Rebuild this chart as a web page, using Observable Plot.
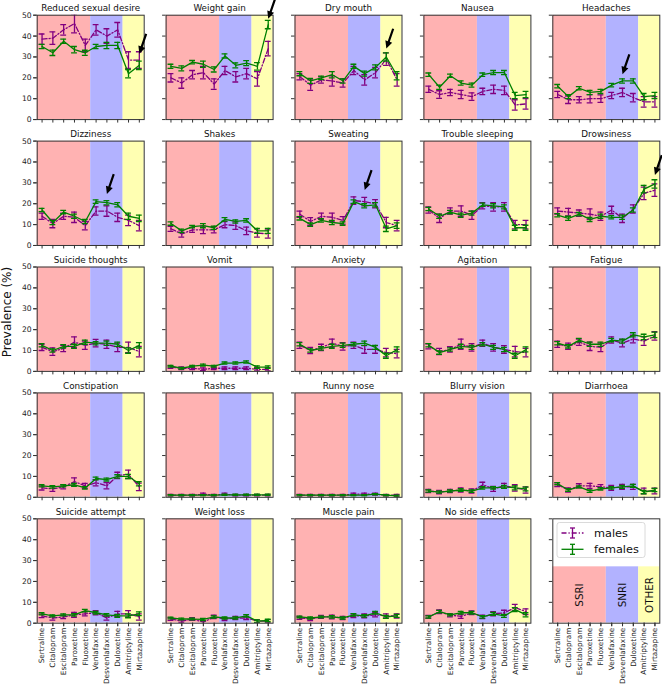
<!DOCTYPE html>
<html><head><meta charset="utf-8">
<script src="https://cdn.jsdelivr.net/npm/d3@7"></script>
<script src="https://cdn.jsdelivr.net/npm/@observablehq/plot@0.6"></script>
<style>
body{margin:0;background:#fff;font-family:"DejaVu Sans",sans-serif;}
#wrap{position:relative;width:662px;height:685px;overflow:hidden;}
#ylabel{position:absolute;left:7px;top:312px;transform:translate(-50%,-50%) rotate(-90deg);font-size:12px;white-space:nowrap;color:#111;}
#legend{position:absolute;left:0;top:0;}
</style></head><body><div id="wrap"><div id="ylabel">Prevalence (%)</div></div>
<script>
const drugs = ["Sertraline","Citalopram","Escitalopram","Paroxetine","Fluoxetine","Venlafaxine","Desvenlafaxine","Duloxetine","Amitriptyline","Mirtazapine"];
const drugClasses = ["SSRI","SSRI","SSRI","SSRI","SSRI","SNRI","SNRI","SNRI","OTHER","OTHER"];
const classNames = ["SSRI","SNRI","OTHER"];
const classColors = ["#ffb2b2","#b2b2ff","#ffffb2"];
const yTicks = [0,10,20,30,40,50];
const symptoms = ["Reduced sexual desire","Weight gain","Dry mouth","Nausea","Headaches","Dizziness","Shakes","Sweating","Trouble sleeping","Drowsiness","Suicide thoughts","Vomit","Anxiety","Agitation","Fatigue","Constipation","Rashes","Runny nose","Blurry vision","Diarrhoea","Suicide attempt","Weight loss","Muscle pain","No side effects"];

const maleValues = [
  [38.5,39,43,46,35.5,43,40,43,28.5,28.5],
  [20,17.5,21.5,22.5,17,23.5,20.5,22,19.5,34],
  [20.5,16.5,19,18.5,17.5,23.5,19,22.5,29,19],
  [14.5,12,13,12,11,13.5,14.5,14,7,7.5],
  [12,9.5,9.5,10,10,11.5,13,10.5,8.5,8.5],
  [14,10.5,14,13.5,9.5,16.5,16.5,13.5,12,9.5],
  [8,5.5,7.5,7.5,7.5,10,9.5,7,6,5.5],
  [15,11.5,14,13.5,12,21.5,21,20,11,9.5],
  [17,13,16.5,16.5,14.5,19,18.5,18.5,10,10],
  [16.5,16,15.5,15,14,17,13,17.5,25,26.5],
  [11.5,9.5,11,14,12.5,13.5,13,11.5,11.5,9.5],
  [2,1.5,1.5,1,1.5,1.5,1.5,1.5,1,1],
  [12.5,10,11.5,13.5,12,12.5,10.5,10.5,9,8.5],
  [12,9.5,10.5,13,11.5,13.5,11.5,10.5,9.5,9],
  [13,12,14,12,11.5,15,13.5,15.5,14.5,17],
  [4.5,4,5,7.5,5.5,7,5.5,10.5,11,5],
  [1,1,1,1.5,1,1.5,1,1,1,1],
  [1,1,1,1,1,1.5,1.5,1.5,1,1],
  [3,2.5,3,3.5,3,6,4,5.5,4.5,3.5],
  [6,3.5,5.5,5.5,5,4.5,5,5,3,3],
  [3.5,2.5,3,4,4.5,5,2.5,4.5,4.5,3],
  [2,1,2,0.5,3,2,2.5,2.5,1,1],
  [2.5,2,3,3,2.5,3.5,3.5,4,3.5,3.5],
  [3,5.5,3.8,3.3,5,3,4.5,5,7.5,5.5]
];
const femaleValues = [
  [35,32,37.5,33.5,32,35,35.5,35.5,22,26],
  [25.5,24.5,27.5,26.5,24,30.5,26,27,25.5,45.5],
  [22,18.5,20,21.5,18.5,25.5,22,25,30,21],
  [21.5,15.5,21,17.5,16.5,21.5,22.5,22.5,11.5,12],
  [16,11,15,13,13.5,16.5,18.5,18.5,11,11.5],
  [17,11,16,14,11.5,21,20.5,19.5,14,13],
  [10.5,7,9,9.5,8.5,12.5,11.5,12,7,7],
  [13,10,12,11,10.5,21,19,19.5,8,9.5],
  [17.5,14,16,14.5,15.5,19.5,19,18.5,8.5,8.5],
  [14.5,13,15,12.5,14,13.5,13.5,17,27,29.5],
  [12.5,10,12,12,14,13.5,13.5,13,10,12.5],
  [2.5,1.5,2.5,3,2.5,4,4,4.5,2,2],
  [13,10,11,12,12.5,13,13.5,11.5,7.5,10.5],
  [12.5,9,10.5,12,11.5,13,11.5,10.5,7.5,10.5],
  [13.5,12,15,13,13,15,14.5,17.5,16.5,17.5],
  [5.5,5,5.5,6,4.5,9,8.5,10,10,6.5],
  [1,1,1,1,1,1.2,1.2,1.2,1.2,1.2],
  [1,1,1,1,1,1,1,1.5,1,0.7],
  [3,2.5,3,3.5,3,4.5,4.5,5,4.5,4],
  [6.5,3.5,5,3,4,4.5,5,5.5,2.5,3.5],
  [4.5,3.5,4,4,6,5,4,3.5,3.5,4.5],
  [2.5,2,2,1.8,3,2.5,2.5,3.5,1,1.3],
  [3,2.5,3,3,2.5,4,3.5,5,3,3.5],
  [3,5.5,4,5,5,3,4.5,3.5,6.5,4]
];
const maleErrors = [
  [2.5,3,2.5,4.5,3,2.5,3.5,3.5,4,4],
  [2,2.5,2,3,2.5,2,2.5,2.5,3.5,3.5],
  [1.5,2.5,1.5,2.5,2,2,2.5,2.5,3,3],
  [1.5,1.8,1.5,2,1.8,1.5,2,2,2.5,2.5],
  [1.5,1.8,1.5,2,1.8,1.5,2,2,2.5,2.5],
  [1.5,2,1.5,2.5,2,2,2.5,2,2.5,2.5],
  [1.2,1.5,1.2,1.8,1.5,1.5,1.8,1.8,2,2],
  [1.5,1.8,1.5,2,1.8,1.8,2,2,2.5,2.5],
  [1.5,2,1.5,2.5,2,1.5,2,2,2,2],
  [1.5,1.8,1.5,2.5,2,1.8,2,2,3,3],
  [1.5,1.8,1.5,2.5,2,1.8,2,2,2.5,2.5],
  [0.6,0.6,0.6,0.7,0.6,0.7,0.7,0.7,0.8,0.8],
  [1.5,1.5,1.5,2,1.8,1.5,1.8,1.8,2,2],
  [1.2,1.5,1.3,2.5,1.8,1.5,1.8,1.8,2.5,2],
  [1.5,1.5,1.5,2,2,1.5,1.8,1.8,2,2],
  [1,1.2,1,1.8,1.2,1.5,1.5,1.5,2,1.8],
  [0.4,0.4,0.4,0.5,0.4,0.5,0.4,0.4,0.4,0.4],
  [0.4,0.4,0.4,0.4,0.4,0.5,0.5,0.5,0.4,0.4],
  [0.8,0.8,0.8,1,1,1.2,1.2,1.2,1.5,1.5],
  [0.9,1,1,1.2,1.1,1.2,1.2,1.2,1.4,1.4],
  [0.8,1,0.8,1.2,1,1,1,1.2,1.5,1.5],
  [0.6,0.6,0.6,0.7,0.8,0.7,0.8,0.8,0.7,0.7],
  [0.7,0.7,0.7,0.9,0.8,0.8,0.9,1,1,1],
  [0.7,0.9,0.8,1,0.9,0.8,1,1.2,1.5,1.4]
];
const femaleErrors = [
  [1,1.3,1,1.5,1.2,1,1.5,1.5,2,2],
  [1,1.2,0.8,1.5,1.2,1,1.2,1.2,1.8,2],
  [1,1.2,0.8,1.5,1,1,1.2,1.2,2,2],
  [0.8,1,0.8,1,1,0.8,1,1,1.5,1.5],
  [0.8,1,0.8,1,1,0.8,1,1,1.5,1.5],
  [0.8,1,0.8,1,1,0.8,1,1,1.5,1.5],
  [0.8,0.8,0.6,1,0.8,0.8,0.8,0.8,1.2,1.2],
  [0.8,0.8,0.8,1,0.8,0.8,1,1,1.3,1.3],
  [0.8,1,0.8,1,1,0.8,1,1,1.2,1.2],
  [0.8,1,0.8,1,1,0.8,1,1,1.8,2],
  [0.8,0.8,0.8,1,1,0.8,1,1,1.3,1.3],
  [0.4,0.4,0.4,0.5,0.4,0.5,0.5,0.5,0.6,0.6],
  [0.8,0.8,0.8,1,1,0.8,1,1,1.2,1.2],
  [0.8,0.8,0.8,1,1,0.8,1,1,1.2,1.2],
  [0.8,0.8,0.8,1,1,0.8,1,1,1.3,1.3],
  [0.5,0.6,0.5,0.7,0.6,0.7,0.7,0.8,1,1],
  [0.3,0.3,0.3,0.3,0.3,0.3,0.3,0.3,0.3,0.3],
  [0.3,0.3,0.3,0.3,0.3,0.3,0.3,0.3,0.3,0.3],
  [0.5,0.5,0.5,0.6,0.6,0.6,0.6,0.7,0.9,0.9],
  [0.5,0.6,0.5,0.6,0.6,0.6,0.7,0.7,0.8,0.8],
  [0.5,0.5,0.5,0.6,0.6,0.6,0.6,0.7,0.9,0.9],
  [0.4,0.4,0.4,0.5,0.5,0.5,0.5,0.6,0.6,0.6],
  [0.4,0.5,0.4,0.6,0.5,0.6,0.6,0.7,0.7,0.7],
  [0.5,0.6,0.5,0.7,0.6,0.6,0.7,0.7,1,1]
];
const sexNames = ["males","females"];
const sexColors = ["#800080","#008000"];

// annotation arrows: which panel, which drug, and the value the arrow tip points at
const arrowSymptoms = ["Reduced sexual desire","Weight gain","Dry mouth","Headaches","Dizziness","Sweating","Drowsiness"];
const arrowDrugs = ["Mirtazapine","Mirtazapine","Amitriptyline","Desvenlafaxine","Desvenlafaxine","Desvenlafaxine","Mirtazapine"];
const arrowTips = [31.5,48.3,34,21.7,24.7,26.6,33.8];

const ncol = 5;
const legendBandTop = 27;
const capHalf = 0.27;

const points = [];
symptoms.forEach((s, k) => {
  const col = k % ncol, row = Math.floor(k / ncol);
  [[maleValues[k], maleErrors[k]], [femaleValues[k], femaleErrors[k]]].forEach(([vals, errs], si) => {
    vals.forEach((v, i) => points.push({symptom: s, col, row, sex: sexNames[si], i, v, lo: v - errs[i], hi: v + errs[i]}));
  });
});

const panels = d3.range(symptoms.length + 1).map(k => ({
  k, col: k % ncol, row: Math.floor(k / ncol), title: symptoms[k] ?? "", legend: k === symptoms.length
}));
const bands = [];
panels.forEach(p => classNames.forEach((c, j) => {
  const idx = drugClasses.map((d, i) => d === c ? i : null).filter(i => i !== null);
  bands.push({...p, cls: c, x1: d3.min(idx) - 0.5, x2: d3.max(idx) + 0.5, top: p.legend ? legendBandTop : 50, fill: classColors[j]});
}));
const legendBands = bands.filter(b => b.legend);

const arrows = arrowSymptoms.map((s, j) => {
  const k = symptoms.indexOf(s);
  return {col: k % ncol, row: Math.floor(k / ncol), i: drugs.indexOf(arrowDrugs[j]), y: arrowTips[j]};
});
const arrowShape = {
  draw(ctx, l) {
    const w = 1.1, hw = 3.6, hl = 7.5;
    ctx.moveTo(-w, 0);
    ctx.lineTo(-w, -l + hl);
    ctx.lineTo(-hw, -l + hl);
    ctx.lineTo(0, -l);
    ctx.lineTo(hw, -l + hl);
    ctx.lineTo(w, -l + hl);
    ctx.lineTo(w, 0);
    ctx.closePath();
  }
};

const seriesMarks = sexNames.flatMap((sx, si) => {
  const data = points.filter(d => d.sex === sx);
  const color = sexColors[si];
  const common = {fx: "col", fy: "row", stroke: color, strokeWidth: 1.3, clip: true};
  return [
    Plot.line(data, {...common, x: "i", y: "v", z: "symptom", strokeDasharray: si === 0 ? "5,2,1.2,2" : null}),
    Plot.ruleX(data, {...common, x: "i", y1: "lo", y2: "hi"}),
    Plot.ruleY(data, {...common, y: "lo", x1: d => d.i - capHalf, x2: d => d.i + capHalf}),
    Plot.ruleY(data, {...common, y: "hi", x1: d => d.i - capHalf, x2: d => d.i + capHalf})
  ];
});

const chart = Plot.plot({
  width: 662, height: 685,
  marginLeft: 36.7, marginRight: 2.7, marginTop: 14.7, marginBottom: 62.3,
  style: {fontFamily: "DejaVu Sans", fontSize: "7.3px", color: "#222", background: "white", overflow: "visible"},
  fx: {domain: d3.range(5), paddingInner: 0.17, paddingOuter: 0, round: false, axis: null},
  fy: {domain: d3.range(5), paddingInner: 0.171, paddingOuter: 0, round: false, axis: null},
  x: {domain: [-0.45, 9.45]},
  y: {domain: [0, 50]},
  color: {type: "identity"},
  marks: [
    Plot.rect(bands, {fx: "col", fy: "row", x1: "x1", x2: "x2", y1: 0, y2: "top", fill: "fill", clip: true}),
    Plot.text(legendBands, {fx: "col", fy: "row", x: d => (Math.max(d.x1, -0.45) + Math.min(d.x2, 9.45)) / 2, y: d => d.top / 2, text: "cls", rotate: -90, fontSize: 10.3, fill: "#111"}),
    ...seriesMarks,
    Plot.frame({stroke: "#333", strokeWidth: 1}),
    Plot.text(panels.filter(p => !p.legend), {fx: "col", fy: "row", text: "title", frameAnchor: "top", lineAnchor: "bottom", dy: -4, fontSize: 8.8, fill: "#111"}),
    Plot.axisX({facetAnchor: null, ticks: d3.range(drugs.length), tickFormat: () => "", tickSize: 3.5, stroke: "#333", label: null}),
    Plot.axisX({ticks: d3.range(drugs.length), tickFormat: i => drugs[i], tickRotate: -90, tickSize: 3.5, tickPadding: 1, stroke: "#333", label: null, fontSize: 7.3}),
    Plot.axisY({facetAnchor: null, ticks: yTicks, tickFormat: () => "", tickSize: 3.5, stroke: "#333", label: null}),
    Plot.axisY({ticks: yTicks, tickSize: 3.5, tickPadding: 2, stroke: "#333", label: null, fontSize: 7.6}),
    Plot.vector(arrows, {fx: "col", fy: "row", x: "i", y: "y", length: 21, rotate: 199, anchor: "end", shape: arrowShape, fill: "black", stroke: "none"})
  ]
});
document.getElementById("wrap").prepend(chart);

// legend overlay
const lg = d3.select("#wrap").append("svg").attr("id", "legend").attr("width", 662).attr("height", 685);
lg.append("rect").attr("x", 557).attr("y", 522.5).attr("width", 88).attr("height", 35).attr("rx", 2.5)
  .attr("fill", "white").attr("fill-opacity", 0.85).attr("stroke", "#d0d0d0").attr("stroke-width", 0.8);
sexNames.forEach((sx, si) => {
  const y = 533 + si * 16.3;
  const g = lg.append("g").attr("stroke", sexColors[si]).attr("stroke-width", 1.3);
  g.append("line").attr("x1", 561.5).attr("x2", 583.5).attr("y1", y).attr("y2", y).attr("stroke-dasharray", si === 0 ? "5,2,1.2,2" : null);
  g.append("line").attr("x1", 572.5).attr("x2", 572.5).attr("y1", y - 5).attr("y2", y + 5);
  g.append("line").attr("x1", 570).attr("x2", 575).attr("y1", y - 5).attr("y2", y - 5);
  g.append("line").attr("x1", 570).attr("x2", 575).attr("y1", y + 5).attr("y2", y + 5);
  lg.append("text").attr("x", 594).attr("y", y).attr("dy", "0.35em").attr("font-family", "DejaVu Sans").attr("font-size", 11.3).attr("fill", "#111").text(sx);
});
</script>
</body></html>
